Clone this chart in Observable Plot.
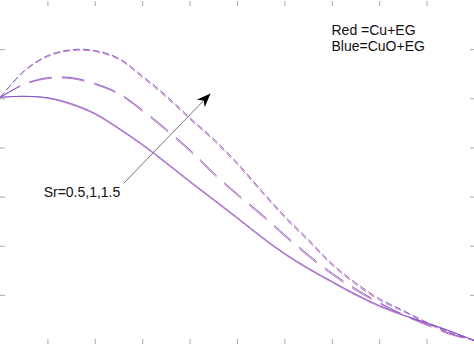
<!DOCTYPE html>
<html>
<head>
<meta charset="utf-8">
<script src="https://cdn.jsdelivr.net/npm/d3@7"></script>
<script src="https://cdn.jsdelivr.net/npm/@observablehq/plot@0.6"></script>
<style>
  html, body { margin: 0; padding: 0; background: #fff; }
  #chart svg { display: block; }
</style>
</head>
<body>
<div id="chart"></div>
<script>
// x positions (eta)
const etaValues = [0,0.5,1,1.5,2,2.5,3,3.5,4,4.5,5,5.5,6,6.5,7,7.5,8,8.5,9,9.5,10];
// Sr = 0.5 (solid)
const redSr05  = [0.503,0.505,0.501,0.488,0.468,0.438,0.405,0.368,0.330,0.293,0.256,0.218,0.183,0.153,0.126,0.100,0.077,0.059,0.043,0.026,0.008];
const blueSr05 = [0.503,0.505,0.502,0.490,0.470,0.440,0.407,0.370,0.332,0.295,0.258,0.220,0.185,0.155,0.128,0.102,0.079,0.060,0.044,0.027,0.008];
// Sr = 1 (long dash)
const redSr1   = [0.503,0.529,0.541,0.541,0.529,0.509,0.474,0.435,0.393,0.346,0.303,0.263,0.220,0.179,0.142,0.110,0.083,0.059,0.039,0.020,0.008];
const blueSr1  = [0.503,0.530,0.543,0.543,0.531,0.511,0.477,0.438,0.396,0.349,0.306,0.266,0.223,0.182,0.145,0.113,0.085,0.061,0.041,0.022,0.008];
// Sr = 1.5 (short dash)
const redSr15  = [0.503,0.556,0.586,0.598,0.596,0.580,0.543,0.503,0.458,0.415,0.366,0.311,0.258,0.210,0.161,0.122,0.090,0.067,0.043,0.022,0.008];
const blueSr15 = [0.503,0.557,0.588,0.600,0.598,0.582,0.546,0.506,0.461,0.418,0.369,0.314,0.261,0.213,0.164,0.125,0.093,0.069,0.045,0.024,0.008];

const xTicks = [1,2,3,4,5,6,7,8,9];
const yTicks = [0.1,0.2,0.3,0.4,0.5,0.6];

const legendLines = ["Red =Cu+EG", "Blue=CuO+EG"];
const legendX = [6.983, 6.983];
const legendY = [0.639, 0.606];
const srLabel = ["Sr=0.5,1,1.5"];
const srLabelX = [0.91];
const srLabelY = [0.309];
const arrowFrom = [2.595, 0.3276];
const arrowTo = [4.43, 0.5108];

const series = [
  {name: "Cu+EG Sr=0.5",  color: "red",  dash: null,   values: redSr05},
  {name: "CuO+EG Sr=0.5", color: "blue", dash: null,   values: blueSr05},
  {name: "Cu+EG Sr=1",    color: "red",  dash: "22,11", values: redSr1},
  {name: "CuO+EG Sr=1",   color: "blue", dash: "22,11", values: blueSr1},
  {name: "Cu+EG Sr=1.5",  color: "red",  dash: "6,4",  values: redSr15},
  {name: "CuO+EG Sr=1.5", color: "blue", dash: "6,4",  values: blueSr15}
];
const colorMap = {red: "#d465b0", blue: "#6a55d0"};

const lineMarks = series.map(s =>
  Plot.line(etaValues.map((x, i) => ({x, y: s.values[i]})), {
    x: "x", y: "y",
    stroke: colorMap[s.color],
    strokeWidth: 1,
    strokeOpacity: 0.9,
    strokeDasharray: s.dash,
    curve: "catmull-rom"
  })
);

const headShape = {
  draw(context, l) {
    context.moveTo(0, -l);
    context.lineTo(5.5, 0);
    context.lineTo(0, -l * 0.3);
    context.lineTo(-5.5, 0);
    context.closePath();
  }
};

const chart = Plot.plot({
  width: 474,
  height: 344,
  margin: 0,
  x: {domain: [0, 10]},
  y: {domain: [0, 0.7]},
  style: {background: "#fff", overflow: "visible"},
  marks: [
    Plot.axisX({anchor: "bottom", ticks: xTicks, tickSize: -5, tickFormat: () => "", label: null, stroke: "#aaa"}),
    Plot.axisX({anchor: "top", ticks: xTicks, tickSize: -5, tickFormat: () => "", label: null, stroke: "#aaa"}),
    Plot.axisY({anchor: "left", ticks: yTicks, tickSize: -5, tickFormat: () => "", label: null, stroke: "#aaa"}),
    Plot.axisY({anchor: "right", ticks: yTicks, tickSize: -5, tickFormat: () => "", label: null, stroke: "#aaa"}),
    ...lineMarks,
    Plot.link([{x1: arrowFrom[0], y1: arrowFrom[1], x2: arrowTo[0], y2: arrowTo[1]}], {
      x1: "x1", y1: "y1", x2: "x2", y2: "y2", stroke: "#777", strokeWidth: 1
    }),
    Plot.vector([{x: arrowTo[0], y: arrowTo[1]}], {
      x: "x", y: "y", length: 14, rotate: 44, anchor: "end",
      shape: headShape, fill: "#000", stroke: "none"
    }),
    Plot.text(legendLines, {
      x: (d, i) => legendX[i], y: (d, i) => legendY[i], text: d => d,
      textAnchor: "start", lineAnchor: "middle",
      fontFamily: "Liberation Sans, Arial, sans-serif", fontSize: 14, fill: "#111"
    }),
    Plot.text(srLabel, {
      x: (d, i) => srLabelX[i], y: (d, i) => srLabelY[i], text: d => d,
      textAnchor: "start", lineAnchor: "middle",
      fontFamily: "Liberation Sans, Arial, sans-serif", fontSize: 14, fill: "#111"
    })
  ]
});
document.getElementById("chart").appendChild(chart);
</script>
</body>
</html>
